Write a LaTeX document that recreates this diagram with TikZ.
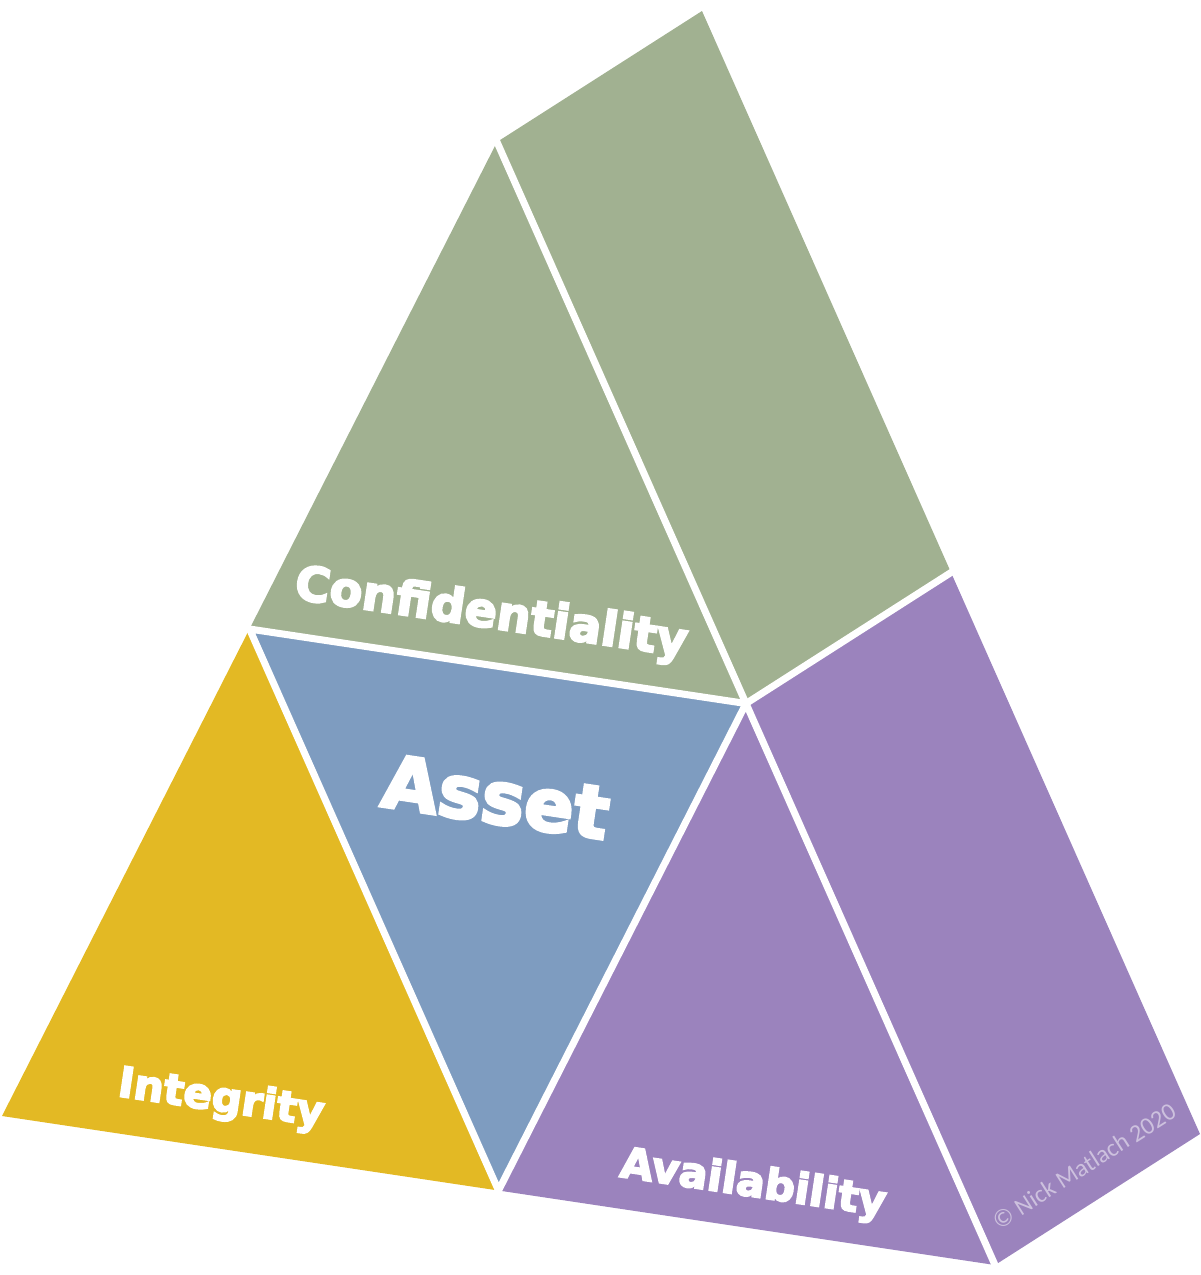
\documentclass[tikz,border=0pt]{standalone}
\usepackage{fontspec}
\setmainfont{DejaVu Sans}
\newfontfamily\heavyfont{DejaVu Sans Bold}[FakeBold=4]
\newfontfamily\notefont{Carlito}
\usetikzlibrary{calc}
\definecolor{ciagreen}{RGB}{161,177,145}
\definecolor{ciablue}{RGB}{126,156,192}
\definecolor{ciayellow}{RGB}{227,185,36}
\definecolor{ciapurple}{RGB}{155,131,189}

\begin{document}
\begin{tikzpicture}[gap/.style={white,line width=2pt,line cap=rect},
  facetext/.style={text=white,inner sep=0pt,rotate=-8.5}]
\useasboundingbox (0,0) rectangle (12,-12.75);

% front triangle, its midpoints and the depth offset
\coordinate (T) at (4.97,-1.42);
\coordinate (L) at (0.02,-11.16);
\coordinate (R) at (9.95,-12.65);
\coordinate (Ml) at ($(T)!0.5!(L)$);
\coordinate (Mr) at ($(T)!0.5!(R)$);
\coordinate (Mb) at ($(L)!0.5!(R)$);
\coordinate (Tb) at ($(T)+(2.05,1.31)$);
\coordinate (Mrb) at ($(Mr)+(2.05,1.31)$);
\coordinate (Rb) at ($(R)+(2.05,1.31)$);

% faces
\fill[ciagreen] (T) -- (Ml) -- (Mr) -- cycle;
\fill[ciagreen] (T) -- (Tb) -- (Mrb) -- (Mr) -- cycle;
\fill[ciablue] (Ml) -- (Mr) -- (Mb) -- cycle;
\fill[ciayellow] (Ml) -- (L) -- (Mb) -- cycle;
\fill[ciapurple] (Mr) -- (Mb) -- (R) -- cycle;
\fill[ciapurple] (Mr) -- (Mrb) -- (Rb) -- (R) -- cycle;

% white gaps
\draw[gap] (T) -- (R);
\draw[gap] (Ml) -- (Mr) -- (Mb) -- cycle;
\draw[gap] (Mr) -- (Mrb);

% labels
\node[facetext,font=\heavyfont\fontsize{13.6}{16}\selectfont] (conf) at (4.91,-6.15) {Confidentiality};
\node[facetext,font=\heavyfont\fontsize{20.8}{24}\selectfont] (asset) at (4.96,-7.97) {Asset};
\node[facetext,font=\heavyfont\fontsize{12}{14}\selectfont] (integ) at (2.21,-11.0) {Integrity};
\node[facetext,font=\heavyfont\fontsize{12.1}{14}\selectfont] (avail) at (7.53,-11.85) {Availability};
\node[font=\notefont\fontsize{7}{8}\selectfont,text=white!50!ciapurple,rotate=32.5,inner sep=0pt] (copy) at (10.84,-11.66) {© Nick Matlach 2020};

\end{tikzpicture}
\end{document}
